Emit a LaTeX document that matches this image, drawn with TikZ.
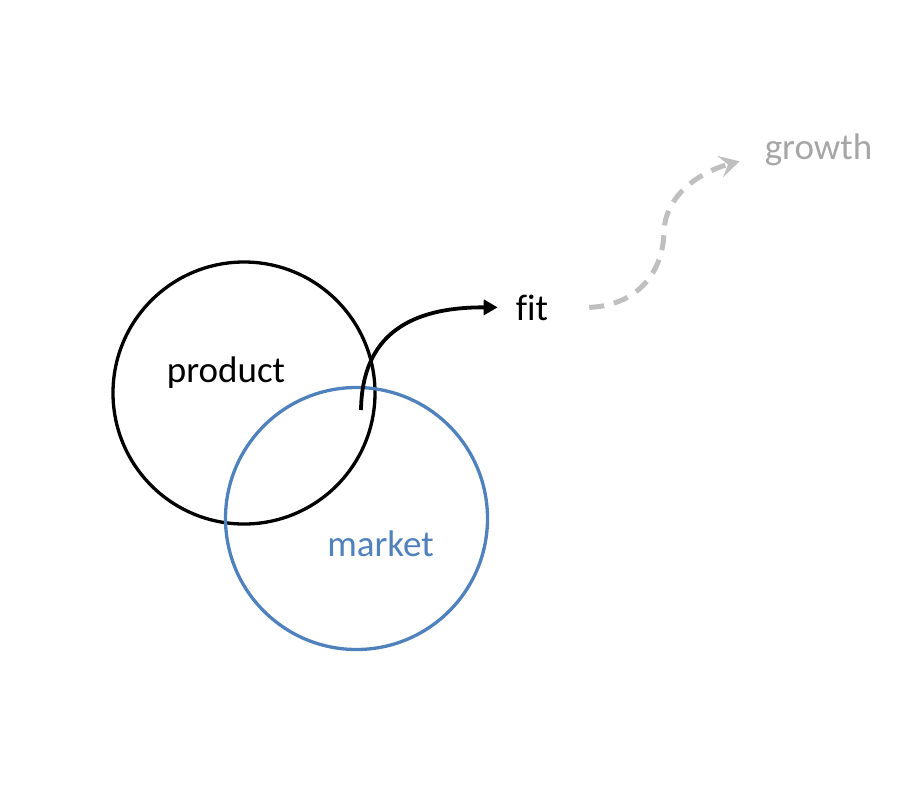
\documentclass[tikz,border=0pt]{standalone}
\usepackage{fontspec}
\setmainfont[Ligatures=CommonOff]{Carlito}
\usetikzlibrary{arrows.meta,positioning}
\definecolor{market}{HTML}{4F81BD}
\definecolor{growthline}{HTML}{BFBFBF}
\definecolor{growthtext}{HTML}{A6A6A6}

\begin{document}
\begin{tikzpicture}[x=1pt,y=-1pt,
    word/.style={anchor=base,inner sep=0pt,font=\fontsize{37}{44}\selectfont},
    ring/.style={draw,circle,line width=3.3pt,minimum size=262pt,inner sep=0pt}]
  \useasboundingbox (0,0) rectangle (913,788);

  % Circles
  \node[ring] (product) at (244,393) {};
  \node[ring,market] (marketring) at (356.5,518.5) {};

  % Labels
  \node[word] (productlabel) at (226,382) {product};
  \node[word,market] (marketlabel) at (380.5,556) {market};
  \node[word] (fit) at (532,320) {fit};
  \node[word,growthtext] (growth) at (818.5,159) {growth};

  % Fit arrow
  \coordinate (overlap) at (361,410);
  \draw[line width=3.8pt,-{Triangle[length=14pt,width=15pt]}]
    (overlap) .. controls (362,335) and (410,307) .. ([xshift=-18pt]fit.west);

  % Growth arrow
  \draw[growthline,line width=5pt,dash pattern=on 15pt off 10pt,
    -{Stealth[length=20pt,width=22pt,inset=8pt]}]
    ([xshift=41pt]fit.east) .. controls (640,305) and (663,270) .. (664,232)
    .. controls (665,195) and (700,172) .. ([xshift=-25pt,yshift=-12pt]growth.west);
\end{tikzpicture}
\end{document}
